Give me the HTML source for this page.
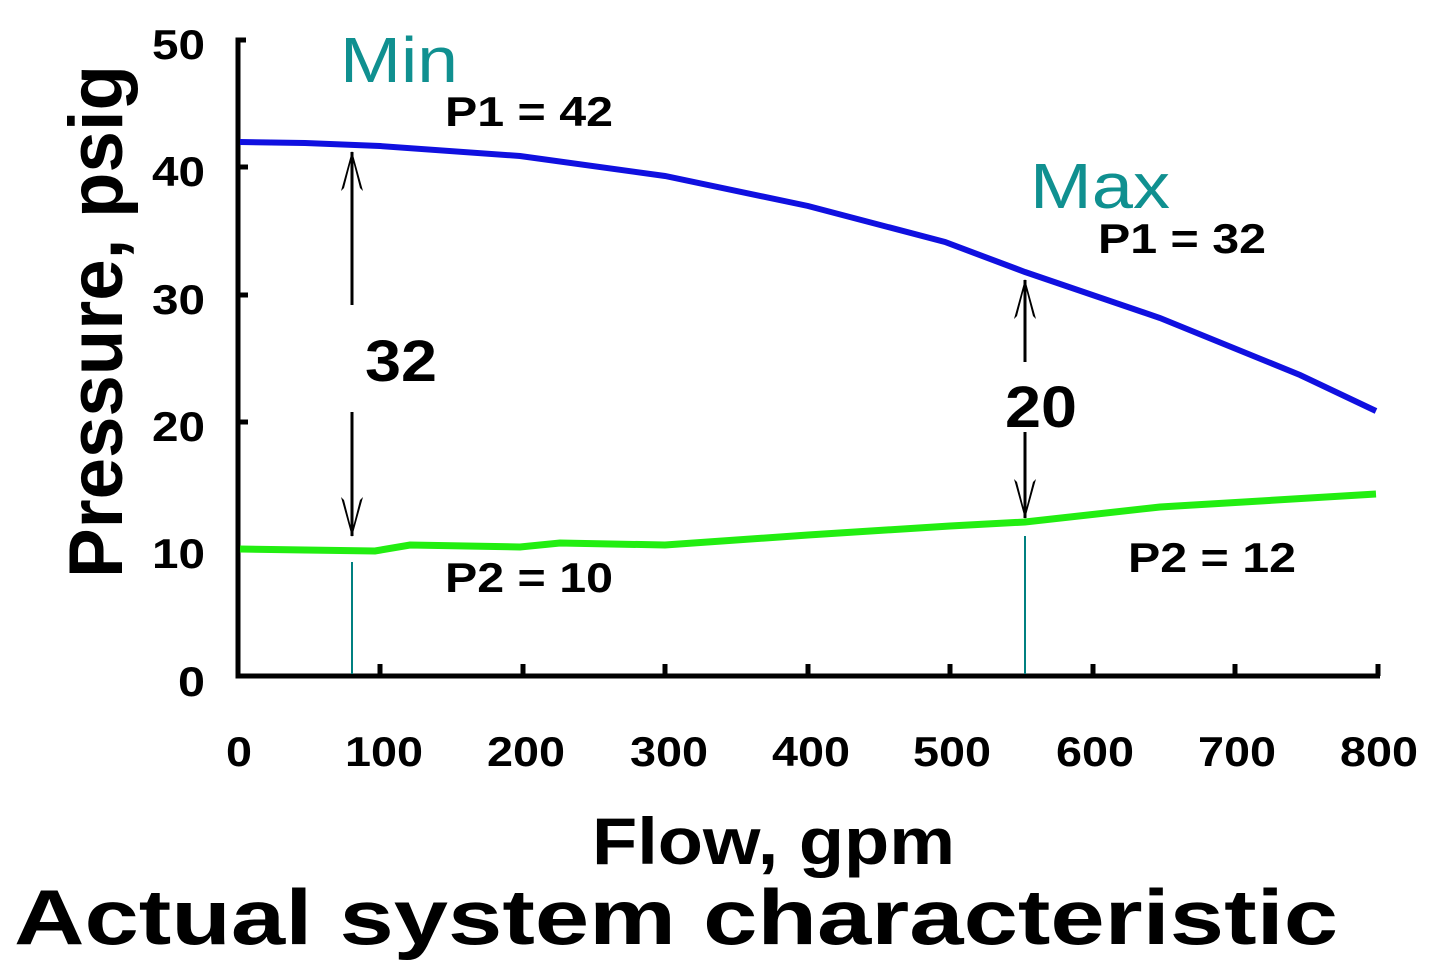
<!DOCTYPE html>
<html><head><meta charset="utf-8"><style>
html,body{margin:0;padding:0;background:#fff;}
svg{display:block;}
text{font-family:"Liberation Sans",Arial,sans-serif;font-weight:bold;}
</style></head><body>
<svg width="1440" height="971" viewBox="0 0 1440 971" xmlns="http://www.w3.org/2000/svg">
<defs>
<marker id="ah" viewBox="0 0 40 24" refX="39" refY="12" markerWidth="40" markerHeight="24" markerUnits="userSpaceOnUse" orient="auto"><path d="M0,1 L40,12 L0,23 L3,20 L34,12 L3,4 Z" fill="#000"/></marker>
</defs>
<path d="M246,40 L238,40 L238,676 L1380,676" fill="none" stroke="#000" stroke-width="5"/>
<g stroke="#000" stroke-width="5">
<line x1="238" y1="167" x2="248" y2="167"/>
<line x1="238" y1="295" x2="248" y2="295"/>
<line x1="238" y1="422" x2="248" y2="422"/>
<line x1="238" y1="550" x2="248" y2="550"/>
<line x1="380" y1="676" x2="380" y2="664"/>
<line x1="523" y1="676" x2="523" y2="664"/>
<line x1="665" y1="676" x2="665" y2="664"/>
<line x1="808" y1="676" x2="808" y2="664"/>
<line x1="950" y1="676" x2="950" y2="664"/>
<line x1="1093" y1="676" x2="1093" y2="664"/>
<line x1="1235" y1="676" x2="1235" y2="664"/>
<line x1="1378" y1="676" x2="1378" y2="664"/>
</g>
<g font-size="42" fill="#000">
<text x="152" y="59" textLength="53" lengthAdjust="spacingAndGlyphs">50</text>
<text x="152" y="186" textLength="53" lengthAdjust="spacingAndGlyphs">40</text>
<text x="152" y="314" textLength="53" lengthAdjust="spacingAndGlyphs">30</text>
<text x="152" y="441" textLength="53" lengthAdjust="spacingAndGlyphs">20</text>
<text x="152" y="568" textLength="53" lengthAdjust="spacingAndGlyphs">10</text>
<text x="178" y="696" textLength="27" lengthAdjust="spacingAndGlyphs">0</text>
</g>
<g font-size="42" fill="#000">
<text x="226" y="766" textLength="26" lengthAdjust="spacingAndGlyphs">0</text>
<text x="345" y="766" textLength="78" lengthAdjust="spacingAndGlyphs">100</text>
<text x="487" y="766" textLength="78" lengthAdjust="spacingAndGlyphs">200</text>
<text x="630" y="766" textLength="78" lengthAdjust="spacingAndGlyphs">300</text>
<text x="772" y="766" textLength="78" lengthAdjust="spacingAndGlyphs">400</text>
<text x="913" y="766" textLength="78" lengthAdjust="spacingAndGlyphs">500</text>
<text x="1056" y="766" textLength="78" lengthAdjust="spacingAndGlyphs">600</text>
<text x="1198" y="766" textLength="78" lengthAdjust="spacingAndGlyphs">700</text>
<text x="1340" y="766" textLength="78" lengthAdjust="spacingAndGlyphs">800</text>
</g>
<text x="592" y="864" font-size="66" textLength="363" lengthAdjust="spacingAndGlyphs">Flow, gpm</text>
<text x="14" y="944" font-size="78" textLength="1324" lengthAdjust="spacingAndGlyphs">Actual system characteristic</text>
<text transform="translate(122,578) rotate(-90)" font-size="76" textLength="513" lengthAdjust="spacingAndGlyphs">Pressure, psig</text>
<path d="M240,142 L305,143 L380,146 L520,156 L665,176 L808,206 L945,242 L1025,272 L1160,318 L1300,375 L1376,411" fill="none" stroke="#1010e0" stroke-width="6"/>
<path d="M240,549 L305,550 L375,551 L410,545 L520,547 L560,543 L665,545 L808,535 L950,526 L1025,522 L1160,507 L1376,494" fill="none" stroke="#22ee11" stroke-width="7"/>
<line x1="352" y1="562" x2="352" y2="674" stroke="#008080" stroke-width="2"/>
<line x1="1025" y1="536" x2="1025" y2="674" stroke="#008080" stroke-width="2"/>
<g stroke="#000" stroke-width="3" fill="none">
<line x1="352" y1="305" x2="352" y2="152" marker-end="url(#ah)"/>
<line x1="352" y1="412" x2="352" y2="536" marker-end="url(#ah)"/>
<line x1="1025" y1="362" x2="1025" y2="280" marker-end="url(#ah)"/>
<line x1="1025" y1="432" x2="1025" y2="518" marker-end="url(#ah)"/>
</g>
<text x="340" y="82" font-size="64" fill="#109090" style="font-weight:normal" textLength="118" lengthAdjust="spacingAndGlyphs">Min</text>
<text x="1030" y="208" font-size="64" fill="#109090" style="font-weight:normal" textLength="140" lengthAdjust="spacingAndGlyphs">Max</text>
<g font-size="42" fill="#000">
<text x="445" y="126" textLength="168" lengthAdjust="spacingAndGlyphs">P1 = 42</text>
<text x="1098" y="253" textLength="168" lengthAdjust="spacingAndGlyphs">P1 = 32</text>
<text x="445" y="592" textLength="168" lengthAdjust="spacingAndGlyphs">P2 = 10</text>
<text x="1128" y="572" textLength="168" lengthAdjust="spacingAndGlyphs">P2 = 12</text>
</g>
<text x="365" y="381" font-size="58" textLength="72" lengthAdjust="spacingAndGlyphs">32</text>
<text x="1005" y="427" font-size="58" textLength="72" lengthAdjust="spacingAndGlyphs">20</text>
</svg>
</body></html>
